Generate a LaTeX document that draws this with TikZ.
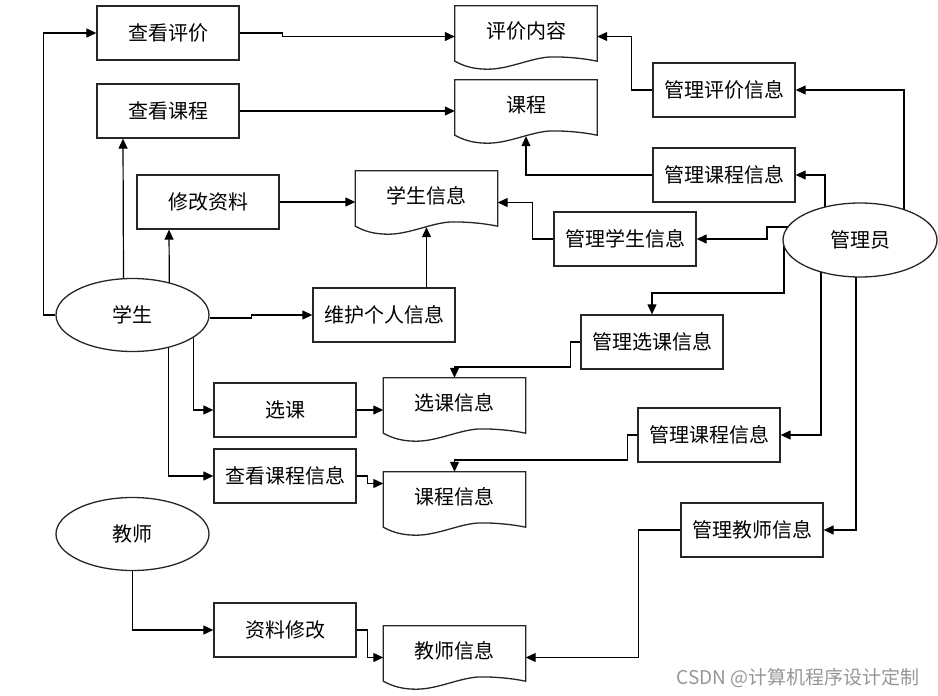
\documentclass[tikz,border=0pt]{standalone}
\usepackage{fontspec}
\setmainfont{Noto Sans CJK SC}
\usetikzlibrary{arrows.meta,shapes.geometric,backgrounds}
\definecolor{wmgray}{RGB}{150,150,150}
\tikzset{
  every node/.style={font=\fontsize{20}{24}\selectfont},
  shapeline/.style={draw=black!85, line width=1.3pt},
  box/.style={shapeline, fill=white, minimum width=142pt, minimum height=54pt, inner sep=0pt},
  docnode/.style={minimum width=142pt, minimum height=55pt, inner sep=0pt, text height=15pt, text depth=5pt},
  ell/.style={ellipse, shapeline, fill=white, minimum width=153pt, minimum height=73pt, inner sep=0pt},
  arr/.style={-{Triangle[length=10pt,width=9pt]}, line width=1.2pt, black},
}
\newcommand\docoutline[1]{%
  \draw[shapeline] (#1.south west) -- (#1.north west) -- (#1.north east) -- (#1.south east)
   .. controls ([shift={(128pt,3pt)}]#1.south west) and ([shift={(112pt,4.3pt)}]#1.south west) .. ([shift={(98pt,4.3pt)}]#1.south west)
   .. controls ([shift={(78pt,4.3pt)}]#1.south west) and ([shift={(55pt,-8pt)}]#1.south west) .. ([shift={(33pt,-8pt)}]#1.south west)
   .. controls ([shift={(20pt,-8pt)}]#1.south west) and ([shift={(10pt,-5.5pt)}]#1.south west) .. (#1.south west) -- cycle;}
\begin{document}
\begin{tikzpicture}[x=1pt,y=-1pt]
\useasboundingbox (0,0) rectangle (938,696);
% process boxes
\node[box] (ckpj) at (168,33) {查看评价};
\node[box] (ckkc) at (168,111) {查看课程};
\node[box] (xgzl) at (208,202) {修改资料};
\node[box] (whgr) at (384,315) {维护个人信息};
\node[box] (xk) at (285,410) {选课};
\node[box] (ckkcxx) at (285,476) {查看课程信息};
\node[box] (zlxg) at (285,630) {资料修改};
\node[box] (glpj) at (724,90) {管理评价信息};
\node[box] (glkca) at (724,175) {管理课程信息};
\node[box] (glxs) at (625,239) {管理学生信息};
\node[box] (glxk) at (652,342) {管理选课信息};
\node[box] (glkcb) at (709,435) {管理课程信息};
\node[box] (gljs) at (752,530) {管理教师信息};
% documents
\node[docnode] (pjnr) at (526,33.5) {评价内容};
\node[docnode] (kc) at (526,107.5) {课程};
\node[docnode] (xsxx) at (426.5,198.5) {学生信息};
\node[docnode] (xkxx) at (454.5,405.5) {选课信息};
\node[docnode] (kcxx) at (454.5,499.5) {课程信息};
\node[docnode] (jsxx) at (454.5,653.5) {教师信息};
\docoutline{pjnr}
\docoutline{kc}
\docoutline{xsxx}
\docoutline{xkxx}
\docoutline{kcxx}
\docoutline{jsxx}
% actors
\node[ell] (xs) at (132.5,315) {学生};
\node[ell] (js) at (132.5,534) {教师};
\node[ell, minimum width=154pt, minimum height=74pt] (gly) at (860,240) {管理员};
% watermark
\node[anchor=east, text=wmgray, font=\fontsize{19}{22}\selectfont] (wm) at (923,678) {CSDN @计算机程序设计定制};
% connectors leaving ellipses (drawn behind)
\begin{scope}[on background layer]
\draw[arr] ([xshift=37pt]xs.center) -- ([xshift=-39pt]xgzl.south);
\draw[arr] ([xshift=61pt]xs.center) |- (xk.west);
\draw[arr] ([xshift=36pt]xs.center) |- (ckkcxx.west);
\draw[arr] ([xshift=44pt]gly.center) |- (glpj.east);
\draw[arr] ([xshift=-35pt]gly.center) |- (glkca.east);
\draw[arr] ([yshift=13pt]gly.center) -- ++(-93,0) |- (glxs.east);
\draw[arr] ([xshift=-76pt]gly.center) -- ++(0,53) -| (glxk.north);
\draw[arr] ([xshift=-39pt]gly.center) |- (glkcb.east);
\draw[arr] ([xshift=-4pt]gly.center) |- (gljs.east);
\end{scope}
% other connectors
\draw[arr] (xs.west) -- ++(-12,0) |- (ckpj.west);
\draw[arr] ([xshift=-9pt]xs.north) -- ([xshift=-45pt]ckkc.south);
\draw[arr] ([yshift=-3pt]xs.east) -- ++(42,0) |- (whgr.west);
\draw[arr] (xgzl.east) -- (xgzl.east -| xsxx.west);
\draw[arr] (whgr.north -| xsxx.south) -- ([yshift=-1pt]xsxx.south);
\draw[arr] (ckpj.east) -- ++(43,0) |- ([yshift=-3pt]pjnr.west);
\draw[arr] (ckkc.east) -- (ckkc.east -| kc.west);
\draw[arr] (glpj.west) -- ++(-21,0) |- ([yshift=-3pt]pjnr.east);
\draw[arr] (glkca.west) -| ([yshift=-1pt]kc.south);
\draw[arr] (glxs.west) -- ++(-21,0) |- ([yshift=-4pt]xsxx.east);
\draw[arr] (glxk.west) -- ++(-10,0) -- ++(0,25) -| (xkxx.north);
\draw[arr] (glkcb.west) -- ++(-10,0) -- ++(0,25) -| (kcxx.north);
\draw[arr] (gljs.west) -- ++(-42,0) |- ([yshift=-4pt]jsxx.east);
\draw[arr] (xk.east) -- (xk.east -| xkxx.west);
\draw[arr] (ckkcxx.east) -- ++(11,0) |- ([yshift=16pt]kcxx.west);
\draw[arr] (js.south) |- (zlxg.west);
\draw[arr] (zlxg.east) -- ++(11,0) |- ([yshift=-4pt]jsxx.west);
\end{tikzpicture}
\end{document}
